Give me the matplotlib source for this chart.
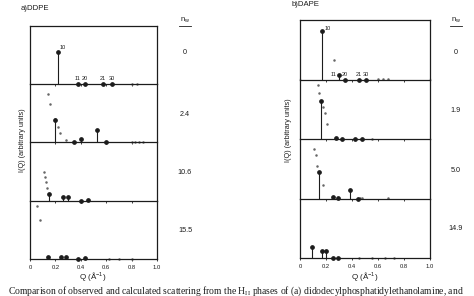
import matplotlib
matplotlib.use("Agg")
import matplotlib.pyplot as plt
from matplotlib.lines import Line2D

plt.rcParams["font.family"] = ["Liberation Sans", "DejaVu Sans"]
plt.rcParams["mathtext.fontset"] = "custom"
plt.rcParams["mathtext.rm"] = "Liberation Sans"

# ---------------- data ----------------
titles = ["a)DDPE", "b)DAPE"]
nw_left = ["0", "2.4", "10.6", "15.5"]
nw_right = ["0", "1.9", "5.0", "14.9"]
hkl = ["10", "11", "20", "21", "30"]
xticks = [0, 0.2, 0.4, 0.6, 0.8, 1.0]
xticklabels = ["0", "0.2", "0.4", "0.6", "0.8", "1.0"]

# observed reflections (Q, relative intensity within each sub-panel)
left_obs_Q = [[0.218, 0.375, 0.435, 0.572, 0.648],
              [0.197, 0.349, 0.400, 0.530, 0.600],
              [0.150, 0.257, 0.300, 0.400, 0.454],
              [0.139, 0.244, 0.280, 0.380, 0.430]]
left_obs_I = [[0.55, 0.01, 0.01, 0.01, 0.01],
              [0.385, 0.0, 0.064, 0.207, 0.0],
              [0.12, 0.06, 0.06, 0.0, 0.01],
              [0.04, 0.04, 0.03, 0.0, 0.015]]
right_obs_Q = [[0.170, 0.300, 0.346, 0.450, 0.510],
               [0.160, 0.275, 0.320, 0.420, 0.477],
               [0.146, 0.256, 0.295, 0.387, 0.443],
               [0.095, 0.167, 0.198, 0.256, 0.295]]
right_obs_I = [[0.81, 0.078, 0.0, 0.0, 0.0],
               [0.64, 0.01, 0.0, 0.0, 0.0],
               [0.45, 0.02, 0.01, 0.145, 0.0],
               [0.19, 0.117, 0.117, 0.0, 0.0]]

# calculated scattering (dotted)
left_calc_Q = [[0.80, 0.84],
               [0.139, 0.157, 0.197, 0.22, 0.236, 0.283, 0.80, 0.83, 0.86, 0.89],
               [0.11, 0.118, 0.126, 0.134],
               [0.059, 0.079, 0.62, 0.70, 0.80]]
left_calc_I = [[0.005, 0.005],
               [0.83, 0.66, 0.40, 0.26, 0.17, 0.05, 0.01, 0.01, 0.01, 0.01],
               [0.49, 0.41, 0.32, 0.22],
               [0.91, 0.67, 0.005, 0.005, 0.005]]
right_calc_Q = [[0.26, 0.60, 0.64, 0.68],
                [0.136, 0.146, 0.177, 0.19, 0.21, 0.55],
                [0.11, 0.12, 0.133, 0.18, 0.46, 0.48, 0.68],
                [0.45, 0.55, 0.65, 0.72]]
right_calc_I = [[0.32, 0.005, 0.005, 0.005],
                [0.90, 0.77, 0.54, 0.43, 0.25, 0.005],
                [0.83, 0.73, 0.55, 0.23, 0.005, 0.005, 0.005],
                [0.005, 0.005, 0.005, 0.005]]

INK = "#1c1c1c"
W, H = 474, 296

fig = plt.figure(figsize=(W / 100, H / 100), dpi=100)
fig.patch.set_facecolor("white")


def fx(px):
    return px / W


def fy(py):
    return 1 - py / H


def draw_block(x0, x1, y_top, y_bot, obsQ, obsI, calcQ, calcI):
    n = len(obsQ)
    ph = (y_bot - y_top) / n
    axes = []
    for k in range(n):
        top = y_top + k * ph
        ax = fig.add_axes([fx(x0), fy(top + ph), fx(x1) - fx(x0), ph / H])
        ax.set_xlim(0, 1.0)
        ax.set_ylim(0, 1)
        ax.set_facecolor("none")
        for s in ax.spines.values():
            s.set_color(INK)
            s.set_linewidth(0.9)
        if k > 0:
            ax.spines["top"].set_visible(False)
        ax.set_yticks([])
        ax.set_xticks(xticks)
        ax.tick_params(axis="x", direction="out", length=1.5, width=0.6,
                       color=INK, labelsize=4.2, pad=2.5, labelcolor=INK)
        if k < n - 1:
            ax.set_xticklabels([])
        else:
            ax.set_xticklabels(xticklabels)
        # calculated (dots)
        ax.plot(calcQ[k], calcI[k], linestyle="none", marker="o",
                markersize=0.8, color="#666666", clip_on=False, zorder=2)
        # observed stems
        ax.vlines(obsQ[k], 0, obsI[k], color=INK, linewidth=0.8, zorder=3)
        ax.plot(obsQ[k], obsI[k], linestyle="none", marker="o",
                markersize=2.4, color=INK, clip_on=False, zorder=4)
        axes.append(ax)
    return axes


left_axes = draw_block(30, 157, 26, 259, left_obs_Q, left_obs_I,
                       left_calc_Q, left_calc_I)
right_axes = draw_block(300, 430, 20, 258, right_obs_Q, right_obs_I,
                        right_calc_Q, right_calc_I)

# hkl labels in the top panels
lab_kw = dict(fontsize=4.0, color=INK)
ax = left_axes[0]
ax.annotate(hkl[0], (left_obs_Q[0][0], left_obs_I[0][0]), xytext=(1.5, 1.5),
            textcoords="offset points", ha="left", va="bottom", **lab_kw)
for q, lab in zip(left_obs_Q[0][1:], hkl[1:]):
    ax.annotate(lab, (q, 0.0), xytext=(0, 2.5), textcoords="offset points",
                ha="center", va="bottom", **lab_kw)
ax = right_axes[0]
ax.annotate(hkl[0], (right_obs_Q[0][0], right_obs_I[0][0]), xytext=(1.5, 0.5),
            textcoords="offset points", ha="left", va="bottom", **lab_kw)
ax.annotate(hkl[1], (right_obs_Q[0][1], right_obs_I[0][1]), xytext=(-1.5, 0.5),
            textcoords="offset points", ha="right", va="center", **lab_kw)
for q, lab in zip(right_obs_Q[0][2:], hkl[2:]):
    ax.annotate(lab, (q, 0.0), xytext=(0, 2.0), textcoords="offset points",
                ha="center", va="bottom", **lab_kw)

# titles
fig.text(fx(21), fy(8), titles[0], fontsize=5.6, color=INK, ha="left", va="center")
fig.text(fx(292), fy(4), titles[1], fontsize=5.6, color=INK, ha="left", va="center")

# axis labels
for xc, yc in [(22, 140), (288, 130)]:
    fig.text(fx(xc), fy(yc), "I(Q) (arbitrary units)", rotation=90,
             fontsize=5.2, color=INK, ha="center", va="center")
for xc in [93, 365]:
    fig.text(fx(xc), fy(277), "Q (Å$^{-1}$)", fontsize=5.8, color=INK,
             ha="center", va="center")

# n_w column
for xc, yvals, labs in [(185, [53, 115, 173, 230], nw_left),
                        (456, [53, 110, 171, 229], nw_right)]:
    fig.text(fx(xc), fy(20), "n$_\\mathregular{w}$", fontsize=5.6, color=INK,
             ha="center", va="center")
    fig.add_artist(Line2D([fx(xc - 6), fx(xc + 6)], [fy(26), fy(26)],
                          color=INK, linewidth=0.6))
    for yv, lab in zip(yvals, labs):
        fig.text(fx(xc), fy(yv), lab, fontsize=5.2, color=INK,
                 ha="center", va="center")

# caption
fig.text(fx(8), fy(284),
         "Comparison of observed and calculated scattering from the H$_{\\mathregular{II}}$ "
         "phases of (a) didodecylphosphatidylethanolamine, and",
         fontsize=6.9, fontfamily="Liberation Serif", color=INK,
         ha="left", va="top")

fig.savefig("out.png", dpi=100, facecolor="white")
